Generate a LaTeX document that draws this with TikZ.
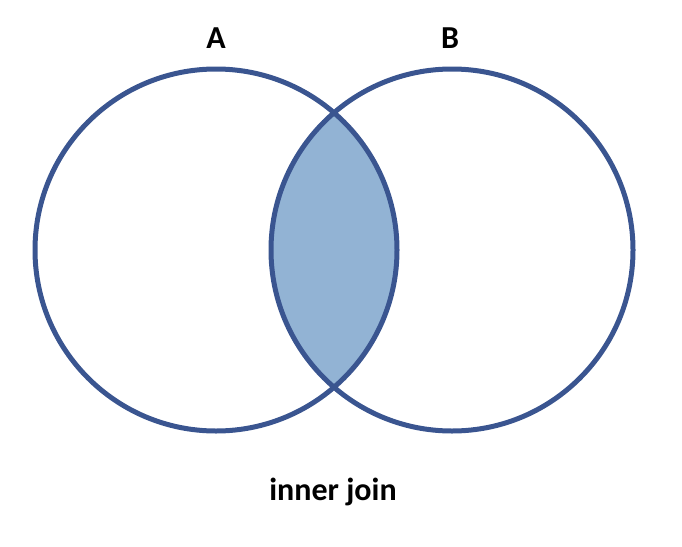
\documentclass[tikz,border=0pt]{standalone}
\usepackage{fontspec}
\setmainfont{Carlito}
\definecolor{ring}{HTML}{3A5590}
\definecolor{lens}{HTML}{92B3D4}
\begin{document}
\begin{tikzpicture}[x=1pt,y=-1pt,
  lbl/.style={font=\bfseries\fontsize{32}{36}\selectfont, inner sep=0pt},
  ringst/.style={draw=ring, line width=5pt}]
\useasboundingbox (0,0) rectangle (682,546);
\coordinate (ca) at (216,250);
\coordinate (cb) at (452,250);
\begin{scope}
  \clip (ca) circle (181);
  \fill[lens] (cb) circle (181);
\end{scope}
\draw[ringst] (ca) circle (181);
\draw[ringst] (cb) circle (181);
\node[lbl] (la) at (216,38) {A};
\node[lbl] (lb) at (450,38) {B};
\node[lbl] (lj) at (333,492) {inner join};
\end{tikzpicture}
\end{document}
